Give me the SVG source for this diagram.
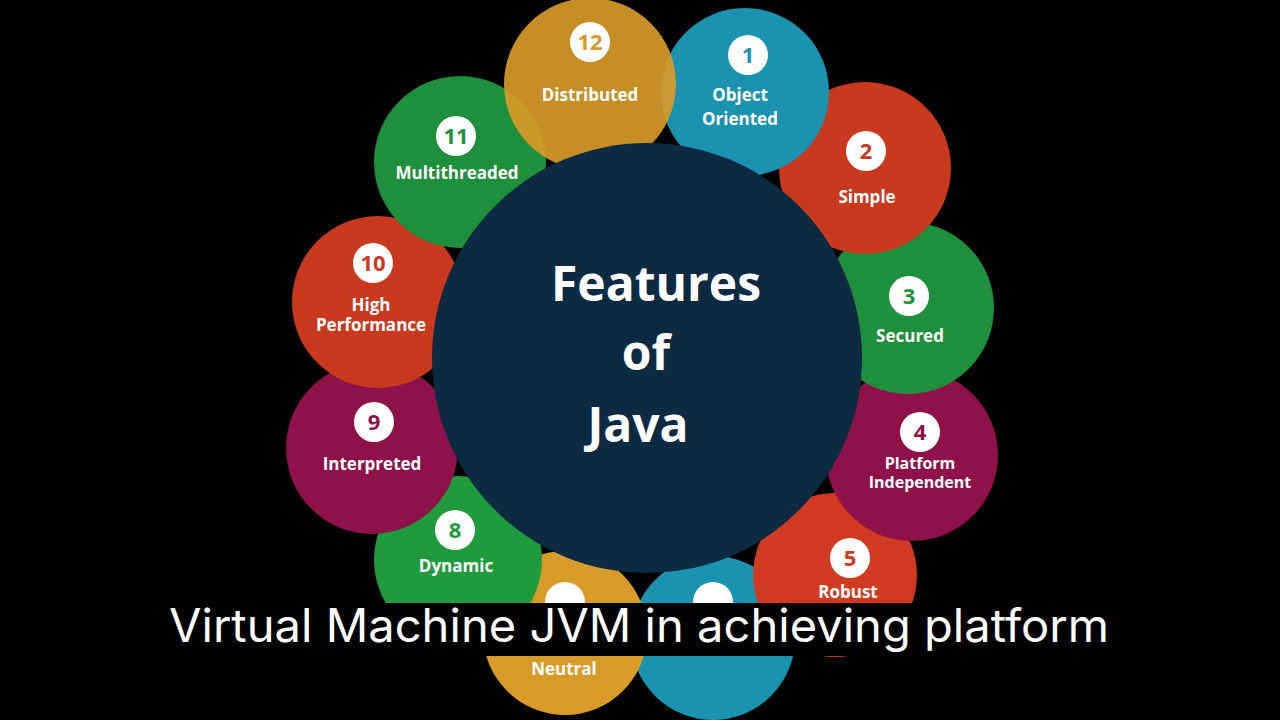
<svg xmlns="http://www.w3.org/2000/svg" width="1280" height="720" viewBox="0 0 1280 720">
<style>
.c{stroke:none}
.lb{font-family:"Open Sans",sans-serif;font-weight:700;font-size:17px;fill:#fff;text-anchor:middle}
.bd{fill:#fff}
.nm{font-family:"Open Sans",sans-serif;font-weight:700;font-size:22px;text-anchor:middle}
.ti{font-family:"Open Sans",sans-serif;font-weight:700;font-size:48px;fill:#fff;text-anchor:middle}
.cap{font-family:Inter,"Liberation Sans",sans-serif;font-size:46px;fill:#fff;text-anchor:middle}
</style>
<rect width="1280" height="720" fill="#000"/>
<g id="n6"><circle class="c" cx="713" cy="638" r="82" fill="#1a93b0"/><circle class="bd" cx="713" cy="602" r="20"/></g>
<g id="n7"><circle class="c" cx="565" cy="633" r="82" fill="#d89a28"/><circle class="bd" cx="565" cy="602" r="20"/><text class="lb" x="564" y="675">Neutral</text></g>
<g id="n5"><circle class="c" cx="835" cy="575" r="82" fill="#cf3a20"/><circle class="bd" cx="850" cy="558" r="20"/><text class="nm" x="850" y="566" fill="#cf3a20">5</text><text class="lb" x="848" y="598">Robust</text></g>
<g id="n8"><circle class="c" cx="458" cy="560" r="84" fill="#1f9a3c"/><circle class="bd" cx="455" cy="530" r="20"/><text class="nm" x="455" y="538" fill="#1f9a3c">8</text><text class="lb" x="456" y="572">Dynamic</text></g>
<g id="n9"><circle class="c" cx="372" cy="448" r="86" fill="#8e1149"/><circle class="bd" cx="374" cy="422" r="20"/><text class="nm" x="374" y="430" fill="#8e1149">9</text><text class="lb" x="372" y="470">Interpreted</text></g>
<g id="n4"><circle class="c" cx="912" cy="455" r="86" fill="#8e1149"/><circle class="bd" cx="920" cy="432" r="20"/><text class="nm" x="920" y="440" fill="#8e1149">4</text><text class="lb" x="920" y="469" style="font-size:16px">Platform</text><text class="lb" x="920" y="488" style="font-size:16px">Independent</text></g>
<g id="n10"><circle class="c" cx="378" cy="302" r="86" fill="#c8391e"/><circle class="bd" cx="373" cy="263" r="20"/><text class="nm" x="373" y="271" fill="#c8391e">10</text><text class="lb" x="371" y="311">High</text><text class="lb" x="371" y="331">Performance</text></g>
<g id="n3"><circle class="c" cx="908" cy="308" r="86" fill="#1e8f3a"/><circle class="bd" cx="909" cy="296" r="20"/><text class="nm" x="909" y="304" fill="#1e8f3a">3</text><text class="lb" x="910" y="342">Secured</text></g>
<g id="n11"><circle class="c" cx="460" cy="162" r="86" fill="#1e8f3a"/><circle class="bd" cx="456" cy="136" r="20"/><text class="nm" x="456" y="144" fill="#1e8f3a">11</text><text class="lb" x="457" y="179">Multithreaded</text></g>
<g id="n2"><circle class="c" cx="865" cy="168" r="86" fill="#c8391e"/><circle class="bd" cx="866" cy="151" r="20"/><text class="nm" x="866" y="159" fill="#c8391e">2</text><text class="lb" x="867" y="203">Simple</text></g>
<g id="n1"><circle class="c" cx="745" cy="92" r="84" fill="#1a93b0"/><circle class="bd" cx="748" cy="55" r="20"/><text class="nm" x="748" y="63" fill="#1a93b0">1</text><text class="lb" x="740" y="101">Object</text><text class="lb" x="740" y="125">Oriented</text></g>
<g id="n12"><circle class="c" cx="590" cy="84" r="86" fill="#d89a28" fill-opacity="0.92"/><circle class="bd" cx="590" cy="42" r="20"/><text class="nm" x="590" y="50" fill="#d89a28">12</text><text class="lb" x="590" y="101">Distributed</text></g>
<g id="center"><circle class="c" cx="647" cy="358" r="215" fill="#0c2a42"/><text class="ti" x="656" y="301">Features</text><text class="ti" x="646" y="370">of</text><text class="ti" x="638" y="442">Java</text></g>
<g id="caption"><rect x="165" y="603" width="945" height="53" fill="#000"/><text class="cap" x="639" y="642" textLength="940" lengthAdjust="spacingAndGlyphs">Virtual Machine JVM in achieving platform</text></g>
<g id="connectors"/>
</svg>
